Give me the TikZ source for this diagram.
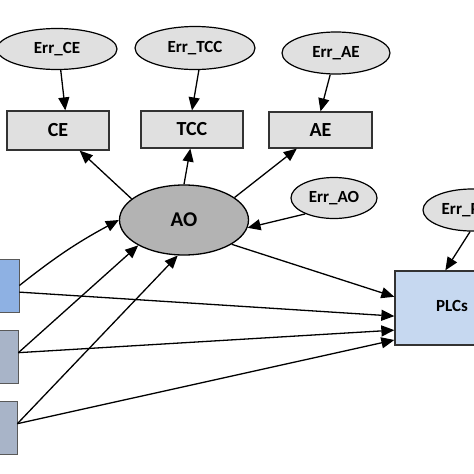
\documentclass[tikz,border=0pt]{standalone}
\usepackage{fontspec}
\setmainfont{Carlito}
\usepackage{tikz}
\usetikzlibrary{
    arrows.meta,
    shapes.geometric
}

\definecolor{errgray}{HTML}{E0E0E0}
\definecolor{aogray}{HTML}{B3B3B3}
\definecolor{plcblue}{HTML}{C6D8F0}
\definecolor{inblue}{HTML}{8EB1E3}
\definecolor{inslate}{HTML}{A8B4C8}

\tikzset{
    errnode/.style={ellipse, draw=black, line width=1.2pt, fill=errgray,
        inner sep=0pt, font=\bfseries\fontsize{17}{17}\selectfont},
    obsbox/.style={rectangle, draw=black!80, line width=1.2pt, fill=errgray,
        inner sep=0pt, font=\bfseries\fontsize{20}{20}\selectfont},
    inbox/.style={rectangle, draw=black!65, line width=0.8pt,
        minimum width=40pt, minimum height=53pt, inner sep=0pt},
    effect/.style={-{Triangle[length=13pt,width=11pt]}, line width=1.3pt}
}

\begin{document}
\begin{tikzpicture}[x=1pt,y=-1pt]

\useasboundingbox (0,0) rectangle (474,474);
\clip (0,0) rectangle (474,474);

% Error terms
\node[errnode, minimum width=120pt, minimum height=41pt] (errce) at (57,49) {Err\_CE};
\node[errnode, minimum width=120pt, minimum height=43pt] (errtcc) at (195,48) {Err\_TCC};
\node[errnode, minimum width=108pt, minimum height=42pt] (errae) at (336,53) {Err\_AE};
\node[errnode, minimum width=86pt, minimum height=41pt] (errao) at (334,198) {Err\_AO};
\node[errnode, minimum width=98pt, minimum height=42pt] (errplcs) at (472,210) {Err\_PLCs};

% Indicators of AO
\node[obsbox, minimum width=102pt, minimum height=39pt] (ce) at (58,130.5) {CE};
\node[obsbox, minimum width=102pt, minimum height=37pt] (tcc) at (192,129.5) {TCC};
\node[obsbox, minimum width=103pt, minimum height=36pt] (ae) at (320.5,130) {AE};

% Latent variable
\node[ellipse, draw=black, line width=1.3pt, fill=aogray, minimum width=129pt,
    minimum height=70pt, inner sep=0pt, font=\bfseries\fontsize{21}{21}\selectfont]
    (ao) at (184,220) {AO};

% Outcome
\node[rectangle, draw=black!80, line width=1.3pt, fill=plcblue, minimum width=114pt,
    minimum height=74pt, inner sep=0pt] (plcs) at (452,308) {};
\node[font=\bfseries\fontsize{17}{17}\selectfont] (plcstext) at (452,306) {PLCs};

% Inputs (cut at the left edge)
\node[inbox, fill=inblue] (in1) at (-1,285.5) {};
\node[inbox, fill=inslate] (in2) at (-2,357) {};
\node[inbox, fill=inslate] (in3) at (-3,428) {};

% Error arrows
\draw[effect] (errce.-80) -- (ce.70);
\draw[effect] (errtcc.-80) -- (tcc.north);
\draw[effect] (errae.-105) -- (ae.north);
\draw[effect] (errao.209) -- (ao.-7);
\draw[effect] (errplcs.-95) -- (plcs.100);

% AO to indicators
\draw[effect] (ao.158) -- (ce);
\draw[effect] (ao.north) -- (tcc.-95);
\draw[effect] (ao.24) -- (ae);
\draw[effect] (ao.-27) -- (plcs.169);

% Inputs to AO
\draw[effect] (in1.east) to[bend left=5] (ao.west);
\draw[effect] (in2.12) -- (ao.209);
\draw[effect] (in3.12) -- (ao.260);

% Inputs to PLCs
\draw[effect] (in1.-18) -- (plcs.188);
\draw[effect] (in2.12) -- (plcs.201);
\draw[effect] (in3.12) -- (plcs.209);

\end{tikzpicture}
\end{document}
